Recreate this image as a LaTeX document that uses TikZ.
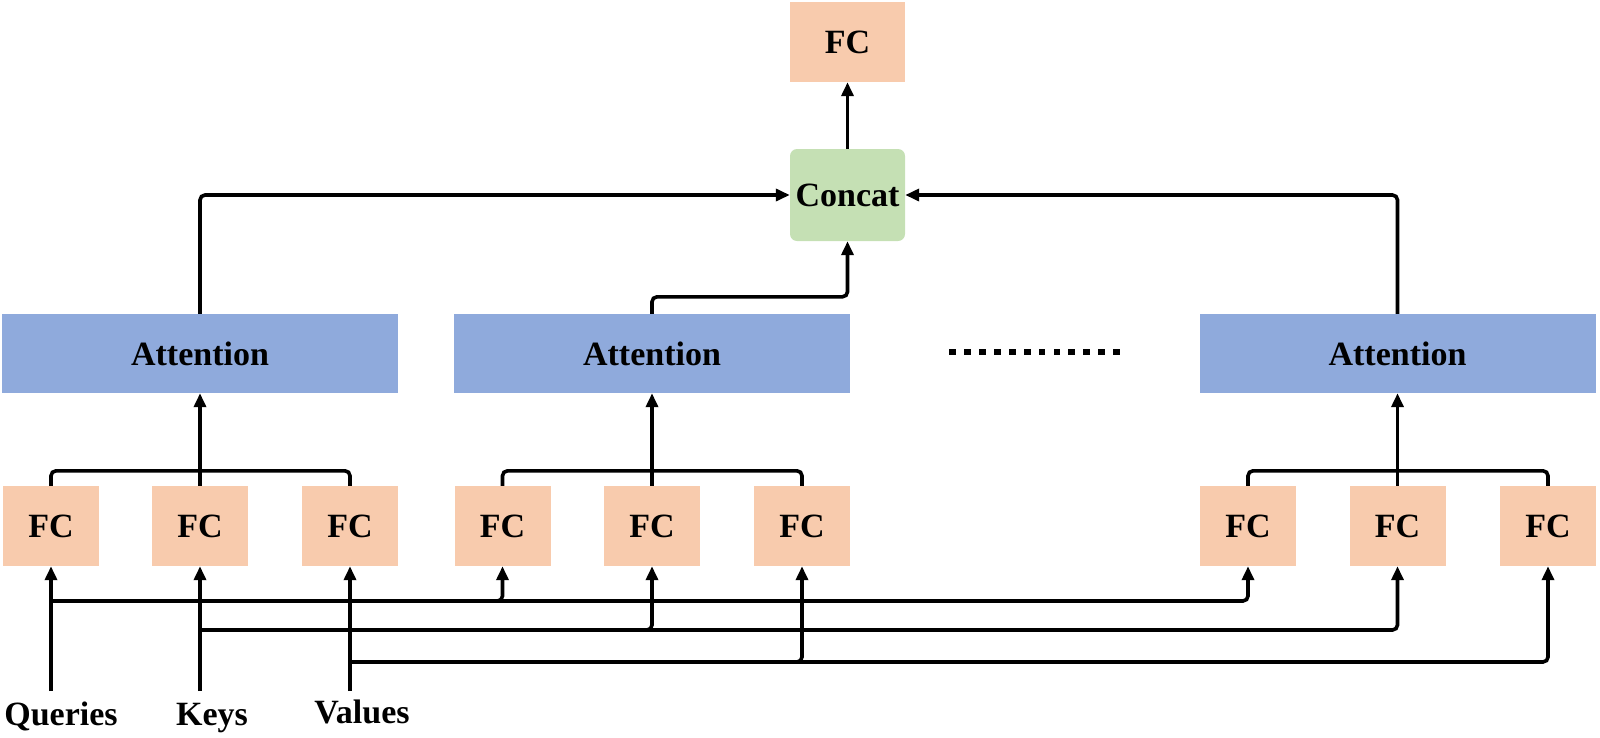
\documentclass[tikz,border=0pt]{standalone}
\usepackage{fontspec}
\setmainfont{Liberation Serif}
\usetikzlibrary{arrows.meta}
\definecolor{fcfill}{HTML}{F8CBAD}
\definecolor{attfill}{HTML}{8FAADC}
\definecolor{catfill}{HTML}{C5E0B4}
\tikzset{
  txt/.style={font=\fontsize{34}{40}\selectfont\bfseries, text=black},
  fcbox/.style={txt, fill=fcfill, minimum width=96pt, minimum height=80pt, inner sep=0pt},
  attbox/.style={txt, fill=attfill, minimum width=396pt, minimum height=79pt, inner sep=0pt},
  catbox/.style={txt, fill=catfill, minimum width=115pt, minimum height=92pt, inner sep=0pt, rounded corners=7pt},
  lbl/.style={txt, anchor=base, inner sep=0pt},
  wire/.style={line width=3.6pt, draw=black, rounded corners=5pt},
  arr/.style={wire, -{Triangle[length=14pt,width=12pt]}},
}
\begin{document}
\begin{tikzpicture}[x=1pt,y=-1pt]
\useasboundingbox (0,0) rectangle (1600,737);
% FC row
\node[fcbox] (f1) at (51,526) {FC};
\node[fcbox] (f2) at (200,526) {FC};
\node[fcbox] (f3) at (350,526) {FC};
\node[fcbox] (f4) at (502.5,526) {FC};
\node[fcbox] (f5) at (652,526) {FC};
\node[fcbox] (f6) at (802,526) {FC};
\node[fcbox] (f7) at (1248,526) {FC};
\node[fcbox] (f8) at (1397.5,526) {FC};
\node[fcbox] (f9) at (1548,526) {FC};
% Attention
\node[attbox] (a1) at (200,353.5) {Attention};
\node[attbox] (a2) at (652,353.5) {Attention};
\node[attbox] (a3) at (1397.5,353.5) {Attention};
% top
\node[catbox] (cat) at (847.5,195) {Concat};
\node[fcbox, minimum width=115pt] (fct) at (847.5,42) {FC};
% labels
\node[lbl] (lq) at (61,725) {Queries};
\node[lbl] (lk) at (212,725) {Keys};
\node[lbl] (lv) at (362,723) {Values};
% dots
\foreach \i in {0,...,11}
  \fill ({952.6+\i*14.9-3.4},348.6) rectangle ++(6.8,6.8);
% input coordinates
\coordinate (q0) at (51,691);
\coordinate (k0) at (200,691);
\coordinate (v0) at (350,691);
\coordinate (qj) at (51,601);
\coordinate (kj) at (200,630);
\coordinate (vj) at (350,662);
% inputs
\draw[arr] (q0) -- (f1.south);
\draw[arr] (k0) -- (f2.south);
\draw[arr] (v0) -- (f3.south);
\draw[arr] (qj) -| (f4.south);
\draw[arr] (qj) -| (f7.south);
\draw[arr] (kj) -| (f5.south);
\draw[arr] (kj) -| (f8.south);
\draw[arr] (vj) -| (f6.south);
\draw[arr] (vj) -| (f9.south);
% buses to attention
\draw[wire] (f1.north) -- ++(0,-15) -| (f3.north);
\draw[arr] (f2.north) -- (a1.south);
\draw[wire] (f4.north) -- ++(0,-15) -| (f6.north);
\draw[arr] (f5.north) -- (a2.south);
\draw[wire] (f7.north) -- ++(0,-15) -| (f9.north);
\draw[arr] (f8.north) -- (a3.south);
% to concat
\draw[arr] (a1.north) |- (cat.west);
\draw[arr] (a3.north) |- (cat.east);
\draw[arr] (a2.north) -- ++(0,-17) -| (cat.south);
\draw[arr] (cat.north) -- (fct.south);
\end{tikzpicture}
\end{document}
